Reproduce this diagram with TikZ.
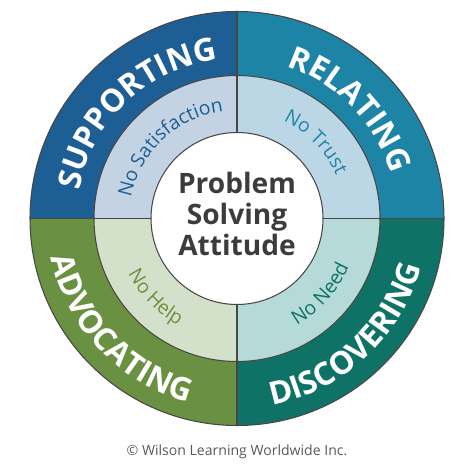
\documentclass[tikz,border=0pt]{standalone}
\usepackage{fontspec}
\setmainfont{Open Sans}
\usetikzlibrary{decorations.text}
\usetikzlibrary{calc}

\definecolor{supblue}{HTML}{1D5E94}
\definecolor{relteal}{HTML}{1E84A6}
\definecolor{advgreen}{HTML}{6A9141}
\definecolor{disteal}{HTML}{0E7366}
\definecolor{suplight}{HTML}{C4D3E4}
\definecolor{rellight}{HTML}{BBD6E5}
\definecolor{advlight}{HTML}{D4E1CA}
\definecolor{dislight}{HTML}{B6DAD7}
\definecolor{rimgray}{HTML}{474747}
\definecolor{titlegray}{HTML}{3C3C3C}

\tikzset{
  rim/.style={draw=rimgray, line width=0.6pt},
  bigword/.style={decorate, decoration={text along path, text align=center,
      text color=white, text={|\fontsize{18}{18}\selectfont\bfseries|#1}}},
  smallword/.style 2 args={decorate, decoration={text along path, text align=center,
      text color=#1, text={|\fontsize{11}{11}\selectfont|#2}}}
}

\begin{document}
\begin{tikzpicture}[x=0.02cm,y=0.02cm]

    \useasboundingbox (0,0) rectangle (474,474);
    \coordinate (c) at (237,255.5);

    % outer quarters
    \fill[supblue]  (c) -- ++(90:207)  arc (90:180:207)  -- cycle;
    \fill[relteal]  (c) -- ++(0:207)   arc (0:90:207)    -- cycle;
    \fill[advgreen] (c) -- ++(180:207) arc (180:270:207) -- cycle;
    \fill[disteal]  (c) -- ++(270:207) arc (270:360:207) -- cycle;

    % light ring
    \fill[suplight] (c) -- ++(90:143)  arc (90:180:143)  -- cycle;
    \fill[rellight] (c) -- ++(0:143)   arc (0:90:143)    -- cycle;
    \fill[advlight] (c) -- ++(180:143) arc (180:270:143) -- cycle;
    \fill[dislight] (c) -- ++(270:143) arc (270:360:143) -- cycle;

    \fill[white] (c) circle (86);

    % outlines
    \draw[rim] (c) circle (207);
    \draw[rim] (c) circle (143);
    \draw[rim] (c) circle (86);
    \foreach \a in {0,90,180,270}
        \draw[rim] ($(c)+(\a:86)$) -- ($(c)+(\a:207)$);

    % quadrant names
    \path[bigword=SUPPORTING]  (c) ++(177:160) arc (177:90:160);
    \path[bigword=RELATING]    (c) ++(88:160)  arc (88:0:160);
    \path[bigword=ADVOCATING]  (c) ++(180:190) arc (180:267:190);
    \path[bigword=DISCOVERING] (c) ++(270:190) arc (270:356:190);

    % inner ring
    \path[smallword={supblue}{No Satisfaction}] (c) ++(178:108) arc (178:88:108);
    \path[smallword={relteal}{No Trust}]        (c) ++(89:108)  arc (89:-1:108);
    \path[smallword={advgreen}{No Help}]        (c) ++(179:122) arc (179:269:122);
    \path[smallword={disteal}{No Need}]         (c) ++(273:122) arc (273:363:122);

    \node (attitude) [align=center, text=titlegray, font=\fontsize{16}{17.6}\selectfont\bfseries]
        at (237,260) {Problem\\Solving\\Attitude};

    \node (copyright) [text=titlegray!85, font=\fontsize{8}{8}\selectfont] at (237,22)
        {© Wilson Learning Worldwide Inc.};

\end{tikzpicture}
\end{document}
